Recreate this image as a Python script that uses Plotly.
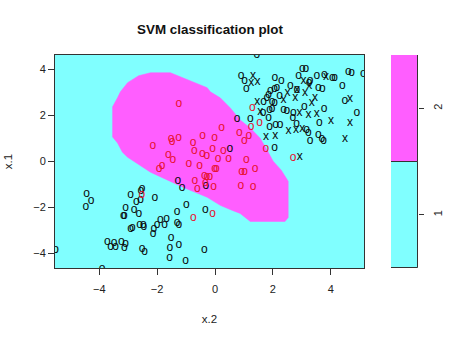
import plotly.graph_objects as go

# ---- decision region of class 2 (boundary traced in data units) ----
region_x = [-2.64, -2.23, -1.54, -1.13, -0.68, -0.27, -0.16, 0.18, 0.53, 0.87, 1.22, 1.56, 1.80, 2.01,
            2.29, 2.53, 2.53, 2.42, 1.22, 0.87, 0.60, 0.18, -0.27, -1.09, -2.23, -3.02, -3.20, -3.37,
            -3.54, -3.54, -3.37, -3.27, -3.02]
region_y = [3.71, 3.84, 3.84, 3.62, 3.41, 3.19, 3.01, 2.75, 2.31, 1.79, 1.44, 1.00, 0.48, 0.00,
            -0.39, -0.87, -2.45, -2.62, -2.62, -2.27, -2.14, -1.92, -1.57, -1.14, -0.48, 0.17, 0.39, 0.79,
            1.05, 2.36, 2.75, 3.01, 3.41]

# ---- class 2 observations ('o', red) ----
c2o_x = [-1.25, -2.15, -1.52, -1.26, -1.48, -0.43, -0.01, 0.23, -0.76, -0.71, -0.44, -0.08, -0.28, -1.61,
         -1.46, -0.90, -0.53, -0.01, 0.05, -1.93, -1.83, 0.11, 0.29, 0.47, 0.84, 1.01, 1.17, 1.25, 1.29,
         1.54, 1.08, 0.92, 1.02, 1.39, -0.37, -0.28, -0.18, -0.70, -0.33, -0.61, -0.05, 0.89, 1.32, 1.76,
         2.70, -2.53, -0.75, -0.08]
c2o_y = [2.47, 0.67, 0.96, 1.02, 0.82, 1.09, 0.99, 1.43, 0.79, 0.45, 0.33, 0.54, 0.22, 0.28,
         0.07, -0.12, -0.23, -0.33, -0.35, -0.33, -0.23, 0.10, 0.42, 0.10, 1.21, 0.87, 1.09, 1.50, 2.33,
         1.64, 0.04, -0.47, -0.47, -0.35, -0.66, -0.68, -0.70, -0.87, -0.95, -1.22, -1.12, -1.09, -1.12, 0.51,
         0.15, -1.46, -2.45, -2.31]

# ---- class 1 observations ('o', black) ----
c1o_x = [0.76, 0.51, -1.28, -0.32,
         -4.44, -4.28, -4.46, -2.92, -2.52, -2.56, -2.72, -2.57, -2.08, -3.09, -2.80, -2.63, -3.17, -3.13,
         -2.92, -2.86, -2.61, -2.48, -2.46, -2.00, -1.89, -2.11, -2.14, -1.67, -1.74, -1.31, -1.31, -1.25,
         -0.99, -0.33, -1.52, -1.56, -1.25, -1.57, -1.02, -3.72, -3.61, -3.49, -3.44, -3.24, -3.09, -3.13,
         -2.52, -2.43, -0.37, -5.51, -3.90, -1.14,
         1.45, 3.02, 3.14, 0.90, 1.02, 1.08, 2.07, 2.29, 2.89, 3.29, 3.25, 3.52, 3.78, 4.06, 4.13, 4.61,
         4.72, 5.13, 2.60, 3.57, 3.71, 4.40, 1.91, 1.85, 1.79, 2.14, 2.06, 2.23, 4.49, 1.68, 1.97, 2.06,
         1.66, 1.89, 1.97, 2.37, 2.48, 2.71, 2.69, 3.09, 3.77, 4.90, 1.22, 1.85, 2.09, 1.89, 2.25, 2.82,
         3.17, 3.23, 3.61, 3.57, 3.69, 3.75, 3.29, 2.06, 2.83]
c1o_y = [1.83, 0.52, -0.84, -1.09,
         -1.44, -1.73, -1.97, -1.48, -1.19, -1.30, -1.78, -1.70, -1.59, -2.02, -2.10, -2.31, -2.36, -2.36,
         -2.94, -2.91, -2.77, -2.77, -2.84, -2.79, -2.55, -2.94, -3.16, -2.50, -2.79, -2.21, -2.69, -2.79,
         -1.92, -2.14, -3.33, -3.77, -3.62, -4.21, -4.32, -3.52, -3.74, -3.57, -3.74, -3.52, -3.60, -3.78,
         -3.80, -3.96, -3.86, -3.84, -4.69, -1.15,
         4.59, 4.02, 4.02, 3.71, 3.49, 3.14, 3.61, 3.46, 3.71, 3.49, 3.39, 3.71, 3.76, 3.61, 3.61, 3.87,
         3.83, 3.80, 3.28, 3.17, 3.14, 3.25, 3.03, 2.88, 2.74, 3.17, 3.13, 2.81, 2.63, 2.59, 2.59, 2.52,
         2.11, 2.23, 2.27, 2.23, 2.18, 2.08, 1.86, 2.34, 2.27, 2.08, 1.83, 1.86, 1.59, 1.50, 1.56, 1.62,
         1.35, 1.24, 1.64, 1.14, 0.95, 0.87, 0.89, 0.58, 3.10]

# ---- class 1 support vectors ('x', black) ----
c1x_x = [1.31, 1.25, 1.47, 3.06, 3.84, 2.83, 3.11, 3.26, 2.51, 2.37, 2.77, 3.34, 3.46, 4.67, 1.46, 1.56,
         2.92, 3.23, 3.52, 4.67, 2.54, 2.80, 3.02, 4.01, 1.76, 2.08, 4.49, 2.93]
c1x_y = [3.71, 3.39, 3.44, 3.46, 3.64, 3.10, 2.98, 3.25, 2.98, 2.66, 2.74, 2.52, 2.74, 2.71, 2.59, 2.15,
         2.11, 2.01, 2.05, 1.67, 1.32, 1.35, 1.38, 1.76, 1.06, 1.09, 0.95, 0.19]

classes = [1, 2]
class_labels = ["1", "2"]

CYAN = "#80FFFF"
MAGENTA = "#FF5EFF"
FONT = "Liberation Sans, Arial, Helvetica, sans-serif"

fig = go.Figure()

# class-2 region
fig.add_trace(go.Scatter(x=region_x + region_x[:1], y=region_y + region_y[:1], mode="lines",
                         fill="toself", fillcolor=MAGENTA, line=dict(color=MAGENTA, width=0.5),
                         hoverinfo="skip", showlegend=False))

ptfont = dict(family=FONT, size=12)
fig.add_trace(go.Scatter(x=c1o_x, y=c1o_y, mode="text", text=["o"] * len(c1o_x),
                         textfont=dict(color="#0a0a0a", **ptfont), showlegend=False))
fig.add_trace(go.Scatter(x=c1x_x, y=c1x_y, mode="text", text=["x"] * len(c1x_x),
                         textfont=dict(color="#0a0a0a", **ptfont), showlegend=False))
fig.add_trace(go.Scatter(x=c2o_x, y=c2o_y, mode="text", text=["o"] * len(c2o_x),
                         textfont=dict(color="#E8102E", **ptfont), showlegend=False))

# colour key
fig.add_trace(go.Bar(x=[0.5, 0.5], y=[1, 1], base=[c - 0.5 for c in classes], width=1,
                     marker=dict(color=[CYAN, MAGENTA], line=dict(color="#333333", width=1)),
                     xaxis="x2", yaxis="y2", showlegend=False, hoverinfo="skip"))

axcommon = dict(showgrid=False, zeroline=False, showline=True, mirror=True, linecolor="#333333",
                linewidth=1, ticks="outside", ticklen=6, tickcolor="#333333", automargin=False,
                tickfont=dict(family=FONT, size=11, color="#222222"))

fig.update_layout(
    width=474, height=338,
    margin=dict(l=55, r=56, t=55, b=70),
    paper_bgcolor="white", plot_bgcolor=CYAN,
    title=dict(text="<b>SVM classification plot</b>", x=210 / 474, xanchor="center",
               y=1 - 29 / 338, yanchor="middle",
               font=dict(family=FONT, size=13.4, color="#111111")),
    xaxis=dict(domain=[0, 309 / 363], range=[-5.53, 5.15], tickvals=[-4, -2, 0, 2, 4],
               ticklabelstandoff=5,
               title=dict(text="x.2", standoff=20, font=dict(family=FONT, size=11.5, color="#222222")),
               **axcommon),
    yaxis=dict(range=[-4.64, 4.61], tickvals=[-4, -2, 0, 2, 4],
               title=dict(text="x.1", standoff=18, font=dict(family=FONT, size=11.5, color="#222222")),
               **axcommon),
    xaxis2=dict(domain=[336 / 363, 1], range=[0, 1], showticklabels=False, ticks="", showgrid=False,
                zeroline=False, showline=False, anchor="y2"),
    yaxis2=dict(range=[0.5, 2.5], tickvals=classes, ticktext=class_labels, side="right", anchor="x2",
                tickangle=-90, showline=False, showgrid=False, zeroline=False, ticks="outside",
                ticklen=5, tickcolor="#333333", ticklabelstandoff=5, automargin=False,
                tickfont=dict(family=FONT, size=11, color="#222222")),
    bargap=0,
)

fig.write_html("out.html")
